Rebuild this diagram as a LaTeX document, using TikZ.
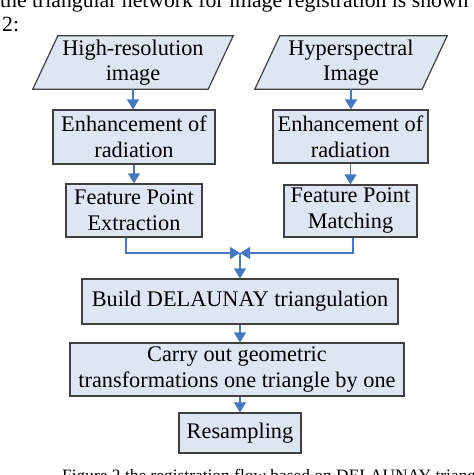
\documentclass[tikz,border=0pt]{standalone}
\usepackage{fontspec}
\setmainfont{Liberation Serif}
\usetikzlibrary{arrows.meta,calc,backgrounds}
\definecolor{boxfill}{RGB}{221,230,242}
\definecolor{boxline}{RGB}{64,64,64}
\definecolor{arrowblue}{RGB}{70,120,195}
\begin{document}
\begin{tikzpicture}[x=1pt,y=-1pt,
 box/.style={draw=boxline, fill=boxfill, line width=1.2pt, inner sep=0pt, align=center, font=\fontsize{22.3}{26}\selectfont},
 para/.style={inner sep=0pt, align=center, font=\fontsize{22.3}{25.5}\selectfont},
 pshape/.style={draw=boxline, fill=boxfill, line width=1.2pt, line join=miter},
 arr/.style={draw=arrowblue, line width=1.3pt, -{Triangle[width=12pt,length=10pt]}},
 body/.style={inner sep=0pt, font=\fontsize{21.7}{24}\selectfont}]
\useasboundingbox (0,0) rectangle (474,475);
\clip (0,0) rectangle (474,475);
\node[body, anchor=base west] (t1) at (0,7.5) {the triangular network for image registration is shown};
\node[body, anchor=base west] (t2) at (2,31) {2:};
\node[para, minimum width=200pt, minimum height=53pt] (p1) at (133,62.5) {High-resolution\\image};
\node[para, minimum width=192pt, minimum height=53pt] (p2) at (351,62.5) {Hyperspectral\\Image};
\begin{scope}[on background layer]
\fill[white] (0,0) rectangle (474,475);
\draw[pshape] ($(p1.north west)+(25,0)$) -- (p1.north east) -- ($(p1.south east)+(-25,0)$) -- (p1.south west) -- cycle;
\draw[pshape] ($(p2.north west)+(25,0)$) -- (p2.north east) -- ($(p2.south east)+(-25,0)$) -- (p2.south west) -- cycle;
\end{scope}
\node[box, minimum width=162pt, minimum height=54pt] (e1) at (134,137) {Enhancement of\\radiation};
\node[box, minimum width=155pt, minimum height=53pt] (e2) at (350.5,136.5) {Enhancement of\\radiation};
\node[box, minimum width=136pt, minimum height=53pt] (f1) at (134,210.5) {Feature Point\\Extraction};
\node[box, minimum width=133pt, minimum height=52pt] (f2) at (350.5,211) {Feature Point\\Matching};
\node[box, minimum width=316pt, minimum height=45pt] (b) at (240,301.5) {Build DELAUNAY triangulation};
\node[box, minimum width=334pt, minimum height=53pt] (c) at (237,369.5) {Carry out geometric\\transformations one triangle by one};
\node[box, minimum width=122pt, minimum height=40pt] (r) at (240,433) {Resampling};
\node[inner sep=0pt, anchor=base west, font=\fontsize{17.4}{20}\selectfont] (cap) at (62,481) {Figure 2 the registration flow based on DELAUNAY triangulation};
\coordinate (j) at (240,253);
\draw[arr] (p1.south) -- (p1.south |- e1.north);
\draw[arr] (p2.south) -- (p2.south |- e2.north);
\draw[arr] (e1.south) -- (f1.north);
\draw[arr] (e2.south) -- (f2.north);
\draw[arr] ($(f1.south)+(-8,0)$) |- (j);
\draw[arr] ($(f2.south)+(2.5,0)$) |- (j);
\draw[arr] (j) -- (b.north);
\draw[arr] (b.south) -- (b.south |- c.north);
\draw[arr] (r.north |- c.south) -- (r.north);
\end{tikzpicture}
\end{document}
